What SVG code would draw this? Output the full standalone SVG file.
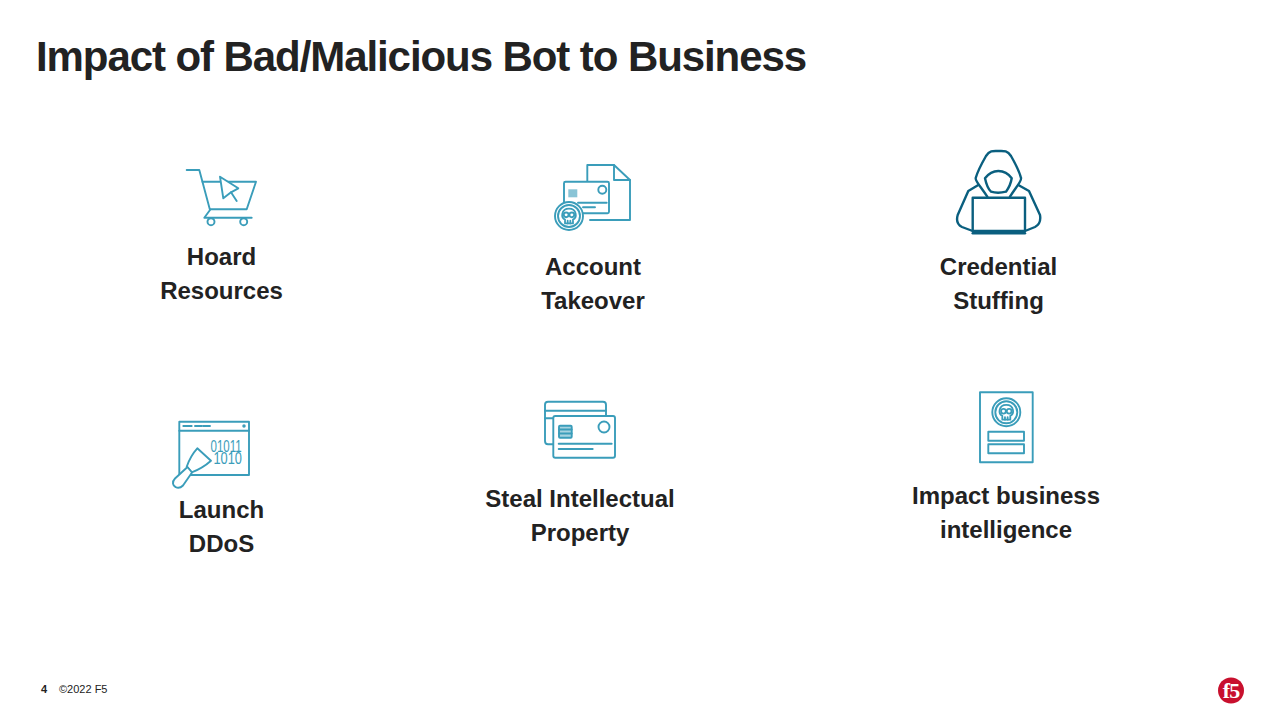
<svg xmlns="http://www.w3.org/2000/svg" xmlns:xlink="http://www.w3.org/1999/xlink" width="1280" height="720" viewBox="0 0 1280 720">
<style>
text{font-family:"Liberation Sans",Arial,sans-serif;fill:#222}
.t{font-size:42px;font-weight:700;letter-spacing:-1.08px}
.l{font-size:24px;font-weight:700;text-anchor:middle}
.f{font-size:11px}
.i{fill:none;stroke:#3a9dba;stroke-width:1.9;stroke-linejoin:round;stroke-linecap:round}
.w{fill:#fff}
.d{fill:none;stroke:#0a5f7f;stroke-width:2.4;stroke-linejoin:round;stroke-linecap:round}
.b{font-size:16px;fill:#3a9dba}
</style>
<defs>
<g id="skull" class="i">
<path d="M-4.200 3.800C-6.800 2.500-7.500 0-7-2.500C-6.300-6-3.500-7.800 0-7.800S6.300-6 7-2.500C7.500 0 6.800 2.500 4.200 3.800V7.800H-4.200Z"/>
<circle cx="-3" cy="-1.200" r="2.500"/><circle cx="3" cy="-1.200" r="2.500"/>
<path d="M-1.400 7.800V5M1.400 7.800V5"/>
</g>
</defs>
<rect width="1280" height="720" fill="#fff"/>
<text class="t" x="36" y="71">Impact of Bad/Malicious Bot to Business</text>
<g id="connectors"/>
<g id="hoard">
<g class="i">
<path d="M186.700 170H199.300L210 210L204.300 217.700H251.700"/>
<path d="M202.500 181.700H256L246.700 209.300H210"/>
<path class="w" d="M220 176.700L238.300 188.300L231 192.300L223.300 198.300Z"/>
<path d="M231 192.300L236.700 201"/>
<circle cx="211" cy="221.700" r="3.500"/><circle cx="243.700" cy="221.700" r="3.500"/>
</g>
<text class="l" x="221.500" y="265">Hoard</text><text class="l" x="221.500" y="299">Resources</text>
</g>
<g id="account">
<g class="i">
<path d="M587.300 181V165H614L630 180V220H590"/>
<path d="M614 165V180H630"/>
<rect class="w" x="564" y="181.700" width="45" height="31.600" rx="1.500"/>
<circle cx="602.300" cy="189.700" r="4"/>
<rect x="568.300" y="189.300" width="9" height="8" fill="#3a9dba" fill-opacity=".6" stroke="none"/>
<path d="M578 202.700H606.700M583 207.300H595"/>
<circle class="w" cx="569" cy="216" r="14"/><circle cx="569" cy="216" r="11"/>
</g>
<use href="#skull" transform="translate(569 216) scale(.95)"/>
<text class="l" x="593" y="275">Account</text><text class="l" x="593" y="309">Takeover</text>
</g>
<g id="credential">
<g class="d">
<path d="M975.700 178C978 170 982 163 986 156C990 150 994 151 998.300 151C1003 151 1007 150 1011 156C1015 163 1019 170 1021 178C1022 181 1016 187 1010 196.700M975.700 178C975 181 981 187 987.300 196.700"/>
<path d="M978.300 185L968.300 191L957.700 215C956 221 958 225 962 227L972.700 231M1018.300 185L1029 191L1040 215C1041 221 1039 225 1035 227L1025 231"/>
<path d="M985 178.300C989 173 994 171 998.300 171C1003 171 1008 173 1011.700 178.300C1011 183 1008 189 1006 191.700C1001 193 995 193 991 191.700C988 189 986 183 985 178.300Z"/>
<rect class="w" x="972.700" y="197.700" width="52.300" height="33.300"/>
<path d="M972.700 233.300H1025"/>
</g>
<text class="l" x="998.500" y="275">Credential</text><text class="l" x="998.500" y="309">Stuffing</text>
</g>
<g id="ddos">
<g class="i">
<rect x="179.300" y="421.700" width="69.700" height="53.300"/>
<path d="M179.300 430.700H249M183.300 426H191.700M195 426H201.700M203.300 426H210"/>
<circle cx="244" cy="426" r=".8"/>
</g>
<text class="b" transform="translate(210.500 452.300) scale(.72 1)">01011</text><text class="b" transform="translate(213.500 464.300) scale(.8 1)">1010</text>
<g class="i">
<path class="w" d="M186.700 466.700C189 460 193 453 197.300 448.300L211 460.700C205 466 198 470 191.700 472.300Z"/>
<path class="w" d="M187.500 467L175 478.500C171.500 482 173 486 175.500 487C178 488.500 181 487.500 183 485.500L192 472.500Z"/>
</g>
<text class="l" x="221.500" y="518">Launch</text><text class="l" x="221.500" y="552">DDoS</text>
</g>
<g id="steal">
<g class="i">
<path d="M553.300 444.300H548C546 444.300 545 443 545 441V404.700C545 402.500 546 401.700 548 401.700H603C605 401.700 606 402.500 606 404.700V416"/>
<path d="M545 410.700H606M545 418.300H553.300"/>
<rect class="w" x="553.300" y="416" width="61.700" height="41.700" rx="2"/>
<circle cx="604" cy="427" r="5.500"/>
<rect x="559" y="425.700" width="12.700" height="12" fill="#3a9dba" fill-opacity=".45" rx="1"/>
<path d="M559 429.500H571.700M559 433.500H571.700M558.700 443.700H611.700M558.700 449H592.700"/>
</g>
<text class="l" x="580" y="507">Steal Intellectual</text><text class="l" x="580" y="541">Property</text>
</g>
<g id="intelligence">
<g class="i">
<rect x="980" y="392.300" width="52.700" height="70"/>
<circle cx="1006.300" cy="412.300" r="14"/><circle cx="1006.300" cy="412.300" r="11"/>
<rect x="988.300" y="431.700" width="35.700" height="9"/><rect x="988.300" y="444.300" width="35.700" height="9"/>
</g>
<use href="#skull" transform="translate(1006.300 412.300) scale(.95)"/>
<text class="l" x="1006" y="504">Impact business</text><text class="l" x="1006" y="538">intelligence</text>
</g>
<g id="footer">
<text class="f" x="41" y="693" font-weight="700">4</text>
<text class="f" x="59" y="693">©2022 F5</text>
<circle cx="1231" cy="690.500" r="13" fill="#c8102e"/>
<text x="1231" y="698" text-anchor="middle" style="font-family:'Liberation Serif',serif;fill:#fff;font-size:22px;font-weight:700;letter-spacing:-1px">f5</text>
</g>
</svg>
